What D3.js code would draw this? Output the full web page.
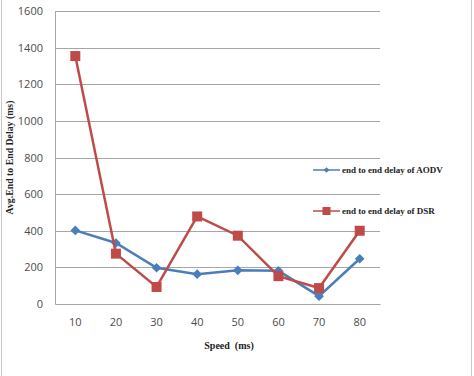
<!DOCTYPE html>
<html>
<head>
<meta charset="utf-8">
<script src="https://cdn.jsdelivr.net/npm/d3@7"></script>
<style>
  body { margin: 0; background: #fff; }
  .tick text { font-family: "Open Sans", "Liberation Sans", sans-serif; font-size: 11px; fill: #4d4d4d; }
  .ttl { font-family: "Liberation Serif", "DejaVu Serif", serif; font-weight: bold; font-size: 9px; fill: #222; }
</style>
</head>
<body>
<div id="chart"></div>
<script>
// speeds on the x axis
const speeds = ["10", "20", "30", "40", "50", "60", "70", "80"];
// avg end to end delay (ms) per speed
const aodvDelay = [402, 333, 198, 163, 184, 181, 43, 247];
const dsrDelay = [1354, 275, 93, 478, 373, 152, 87, 400];
const yTicks = [0, 200, 400, 600, 800, 1000, 1200, 1400, 1600];
const seriesNames = ["end to end delay of AODV", "end to end delay of DSR"];

const W = 474, H = 376;
const margin = {top: 11, right: 94, bottom: 72, left: 55};
const width = W - margin.left - margin.right;
const height = H - margin.top - margin.bottom;

const svg = d3.select("#chart").append("svg")
    .attr("width", W)
    .attr("height", H);

// outer chart border
svg.append("rect")
    .attr("x", 1.5).attr("y", -2)
    .attr("width", W - 4).attr("height", H + 4)
    .attr("fill", "none")
    .attr("stroke", "#c8c8c8");

const g = svg.append("g")
    .attr("transform", "translate(" + margin.left + "," + margin.top + ")");

const x = d3.scaleBand().domain(speeds).range([0, width]);
const y = d3.scaleLinear().domain([0, 1600]).range([height, 0]);

// gridlines
g.selectAll(".grid")
    .data(yTicks.filter(d => d > 0))
    .enter().append("line")
    .attr("x1", 0).attr("x2", width)
    .attr("y1", d => Math.round(y(d)) + 0.5)
    .attr("y2", d => Math.round(y(d)) + 0.5)
    .attr("stroke", "#a6a6a6");

// y axis
const yAxis = g.append("g")
    .call(d3.axisLeft(y).tickValues(yTicks).tickFormat(d3.format("d")).tickSize(0).tickPadding(12));
yAxis.select(".domain").attr("stroke", "#a6a6a6");

// x axis
const xAxis = g.append("g")
    .attr("transform", "translate(0," + height + ")")
    .call(d3.axisBottom(x).tickSize(0).tickPadding(14));
xAxis.select(".domain").attr("stroke", "#a6a6a6");

const cx = d => x(d) + x.bandwidth() / 2;

const line = d3.line()
    .x((d, i) => cx(speeds[i]))
    .y(d => y(d));

const blue = "#4a7ebb", red = "#be4b48";

// AODV
g.append("path")
    .datum(aodvDelay)
    .attr("d", line)
    .attr("fill", "none")
    .attr("stroke", blue)
    .attr("stroke-width", 2.5);

g.selectAll(".aodv")
    .data(aodvDelay)
    .enter().append("path")
    .attr("d", d3.symbol(d3.symbolDiamond2, 60))
    .attr("transform", (d, i) => "translate(" + cx(speeds[i]) + "," + y(d) + ")")
    .attr("fill", blue);

// DSR
g.append("path")
    .datum(dsrDelay)
    .attr("d", line)
    .attr("fill", "none")
    .attr("stroke", red)
    .attr("stroke-width", 2.5);

g.selectAll(".dsr")
    .data(dsrDelay)
    .enter().append("rect")
    .attr("x", (d, i) => cx(speeds[i]) - 5)
    .attr("y", d => y(d) - 5)
    .attr("width", 10).attr("height", 10)
    .attr("fill", red);

// legend
const legend = svg.append("g").attr("transform", "translate(313,170)");
seriesNames.forEach((name, i) => {
    const row = legend.append("g").attr("transform", "translate(0," + i * 41 + ")");
    const col = i === 0 ? blue : red;
    row.append("line")
        .attr("x1", 0).attr("x2", 27)
        .attr("stroke", col).attr("stroke-width", 1.5);
    if (i === 0) {
        row.append("path")
            .attr("d", d3.symbol(d3.symbolDiamond2, 20))
            .attr("transform", "translate(13.5,0)")
            .attr("fill", col);
    } else {
        row.append("rect")
            .attr("x", 9.5).attr("y", -4).attr("width", 8).attr("height", 8)
            .attr("fill", col);
    }
    row.append("text")
        .attr("class", "ttl")
        .attr("x", 29).attr("y", 3)
        .text(name);
});

// axis titles
svg.append("text")
    .attr("class", "ttl")
    .style("font-size", "9.8px")
    .attr("text-anchor", "middle")
    .attr("transform", "translate(13," + (margin.top + height / 2) + ") rotate(-90)")
    .text("Avg.End to End Delay (ms)");

svg.append("text")
    .attr("class", "ttl")
    .style("font-size", "10px")
    .attr("text-anchor", "middle")
    .attr("x", 229).attr("y", 349)
    .text("Speed\u00a0\u00a0(ms)");
</script>
</body>
</html>
